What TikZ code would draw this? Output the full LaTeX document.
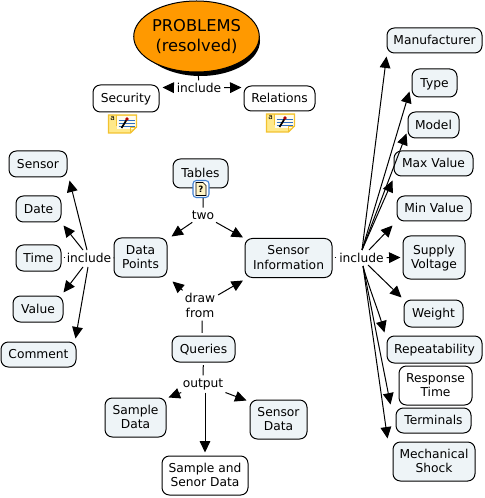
\documentclass[tikz,border=0pt]{standalone}
\usepackage{fontspec}
\setmainfont{DejaVu Sans}
\usetikzlibrary{shapes.geometric,arrows.meta}
\definecolor{boxfill}{HTML}{EEF4F7}
\definecolor{probfill}{HTML}{FF9900}
\definecolor{notey}{HTML}{FFE98A}
\definecolor{noteb}{HTML}{F2C230}
\definecolor{noteblue}{HTML}{2F6FC0}
\definecolor{iconblue}{HTML}{3F7FD0}
\newcommand{\st}{\rule[-2pt]{0pt}{10.2pt}}
\tikzset{
  x=0.75pt,y=-0.75pt,
  box/.style={draw=black,line width=0.75pt,rounded corners=5.5pt,fill=boxfill,align=center,font=\fontsize{9.2}{10.8}\selectfont,inner sep=0pt},
  whitebox/.style={box,fill=white},
  lbl/.style={font=\fontsize{9.2}{11.2}\selectfont,align=center,inner sep=2pt},
  link/.style={draw=black,line width=0.75pt},
  arr/.style={link,-{Triangle[length=8.6pt,width=8pt]}}
}
\newcommand{\bx}[7]{\node[#1,minimum width=#5*0.75pt,minimum height=#6*0.75pt] (#2) at (#3,#4) {\st #7\st};}
\newcommand{\notemark}[2]{%
  \begin{scope}[shift={(#1,#2)}]
    \fill[notey] (-14,-9) -- (14,-9) -- (14,3) -- (8,9) -- (-14,9) -- cycle;
    \fill[white!85!notey] (-6,-8) rectangle (13,5);
    \draw[noteb,line width=0.9pt] (-14,-9) -- (14,-9) -- (14,3) -- (8,9) -- (-14,9) -- cycle;
    \draw[noteb,line width=0.6pt] (8,9) -- (8,3) -- (14,3);
    \draw[noteb,line width=0.6pt] (-6,-9) -- (-6,2);
    \draw[noteblue,line width=0.6pt] (-4,-4) -- (12,-4) (-4,-1) -- (12,-1) (-4,2) -- (12,2);
    \draw[black,line width=1.3pt] (-1,4) -- (4,-4);
    \fill[red!70!black] (4.5,-5) circle (1.8);
    \node[font=\fontsize{5.5}{6}\selectfont,inner sep=0pt] at (-10,-5) {a};
  \end{scope}}
\begin{document}
\begin{tikzpicture}
\useasboundingbox (0,0) rectangle (484,498);
% ellipse
\node[ellipse,fill=black,minimum width=119*0.75pt,minimum height=71*0.75pt,inner sep=0pt] at (200.5,40.5) {};
\node[ellipse,draw=black,line width=0.75pt,fill=probfill,minimum width=119*0.75pt,minimum height=71*0.75pt,inner sep=0pt,align=center,font=\fontsize{12.2}{14.7}\selectfont] (prob) at (196.5,36.5) {PROBLEMS\\(resolved)};
% boxes
\bx{whitebox}{sec}{126}{98.5}{66}{27}{Security}
\bx{whitebox}{rel}{279.5}{98.5}{71}{25}{Relations}
\bx{box}{tab}{200.5}{173.5}{55}{29}{Tables}
\bx{box}{sen}{38}{164}{58}{26}{Sensor}
\bx{box}{dat}{38.5}{209}{45}{26}{Date}
\bx{box}{tim}{38.5}{258}{45}{26}{Time}
\bx{box}{val}{38}{309}{50}{26}{Value}
\bx{box}{com}{38.5}{354.5}{75}{25}{Comment}
\bx{box}{dp}{140.5}{257.5}{53}{39}{Data\\Points}
\bx{box}{si}{288.5}{258}{87}{39}{Sensor\\Information}
\bx{box}{que}{203.5}{349}{63}{26}{Queries}
\bx{box}{sd}{135.5}{417.5}{61}{39}{Sample\\Data}
\bx{box}{snd}{278.5}{419.5}{57}{39}{Sensor\\Data}
\bx{whitebox}{ss}{205}{475.5}{86}{39}{Sample and\\Senor Data}
\bx{box}{man}{434.5}{40.5}{95}{25}{Manufacturer}
\bx{box}{typ}{434.5}{83}{45}{28}{Type}
\bx{box}{mod}{433.5}{125}{51}{26}{Model}
\bx{box}{max}{433.5}{163.5}{79}{25}{Max Value}
\bx{box}{min}{434}{208.5}{74}{25}{Min Value}
\bx{box}{sup}{434}{257.5}{62}{43}{Supply\\Voltage}
\bx{box}{wei}{433.5}{313.5}{59}{27}{Weight}
\bx{box}{rep}{434.5}{349.5}{95}{27}{Repeatability}
\bx{whitebox}{res}{435.5}{385.5}{73}{39}{Response\\Time}
\bx{box}{ter}{433.5}{420.5}{75}{25}{Terminals}
\bx{box}{mec}{434}{461.5}{82}{39}{Mechanical\\Shock}
% link labels
\node[lbl] (li) at (199,88) {include};
\node[lbl] (ltwo) at (203,215) {two};
\node[lbl] (linc) at (89,258) {include};
\node[lbl] (ldf) at (200,305.5) {draw\\from};
\node[lbl] (lout) at (203,384) {output};
\node[lbl] (lr) at (361.5,258) {include};
% free starts of connectors
\coordinate (hla) at (87,250);
\coordinate (hlb) at (83,250);
\coordinate (hlc) at (83,267);
\coordinate (hld) at (88,267);
\coordinate (hr) at (362,250);
\coordinate (hrm) at (369,250);
\coordinate (hbw) at (368,265);
\coordinate (hb) at (363,266);
% connectors
\draw[link] (prob) -- (li);
\draw[arr] (li) -- ([shift={(3,3)}]sec.north east);
\draw[arr] (li) -- ([shift={(-2,2)}]rel.north west);
\draw[link] ([xshift=1.9pt]tab.south) -- ([xshift=0pt]ltwo.north);
\draw[arr] (ltwo) -- ([shift={(4,-1)}]dp.north east);
\draw[arr] (ltwo) -- ([shift={(-1.5,-0.5)}]si.north west);
\draw[link] ([xshift=-1pt,yshift=2pt]que.north) -- ([xshift=1.5pt]ldf.south);
\draw[arr] (ldf) -- ([shift={(5,4)}]dp.south east);
\draw[arr] (ldf) -- ([shift={(-1.5,2.5)}]si.south west);
\draw[link] (dp) -- (linc);
\draw[link,shorten <=1.5pt] (tim) -- (linc);
\draw[arr] (hla) -- ([shift={(2,3)}]sen.south east);
\draw[arr] (hlb) -- ([shift={(2,3)}]dat.south east);
\draw[arr] (hlc) -- ([shift={(0,-3)}]val.north east);
\draw[arr] (hld) -- ([shift={(-1,-3)}]com.north east);
\draw[link,shorten <=2pt] (que) -- (lout);
\draw[arr] (lout) -- ([shift={(2,0)}]sd.north east);
\draw[arr] (lout) -- ([shift={(-3,1)}]snd.north west);
\draw[arr] ([xshift=1.5pt]lout.south) -- ([shift={(0,-3)}]ss.north);
\draw[link,shorten <=1.5pt] (si) -- (lr);
\draw[arr] (hr) -- ([shift={(0,3)}]man.south west);
\draw[arr] (hr) -- ([shift={(-2,-6)}]typ.south west);
\draw[arr] (hr) -- ([shift={(-1,-5)}]mod.south west);
\draw[arr] (hr) -- ([shift={(-1,4)}]max.south west);
\draw[arr] (hrm) -- ([shift={(-4,4)}]min.south west);
\draw[arr] (lr) -- ([shift={(-2,0)}]sup.west);
\draw[arr] (hbw) -- ([shift={(-2,-2)}]wei.north west);
\draw[arr] (hb) .. controls (368,285) and (378,310) .. ([shift={(-2,-3)}]rep.north west);
\draw[arr] (hb) -- ([shift={(-5,-3)}]ter.north west);
\draw[arr] (hb) -- ([shift={(-5,-3)}]mec.north west);
% icons
\notemark{122.5}{124}
\notemark{280.5}{123}
\node[draw=iconblue,fill=white,rounded corners=2.5pt,minimum width=16*0.75pt,minimum height=17*0.75pt,inner sep=0pt,line width=0.8pt] (ic) at (201,189) {};
\fill[notey!50!white,draw=black,line width=0.5pt] (196,182.5) -- (203,182.5) -- (206,185.5) -- (206,195.5) -- (196,195.5) -- cycle;
\node[font=\bfseries\fontsize{6.5}{7}\selectfont,inner sep=0pt] at (201,189.5) {?};
\end{tikzpicture}
\end{document}
